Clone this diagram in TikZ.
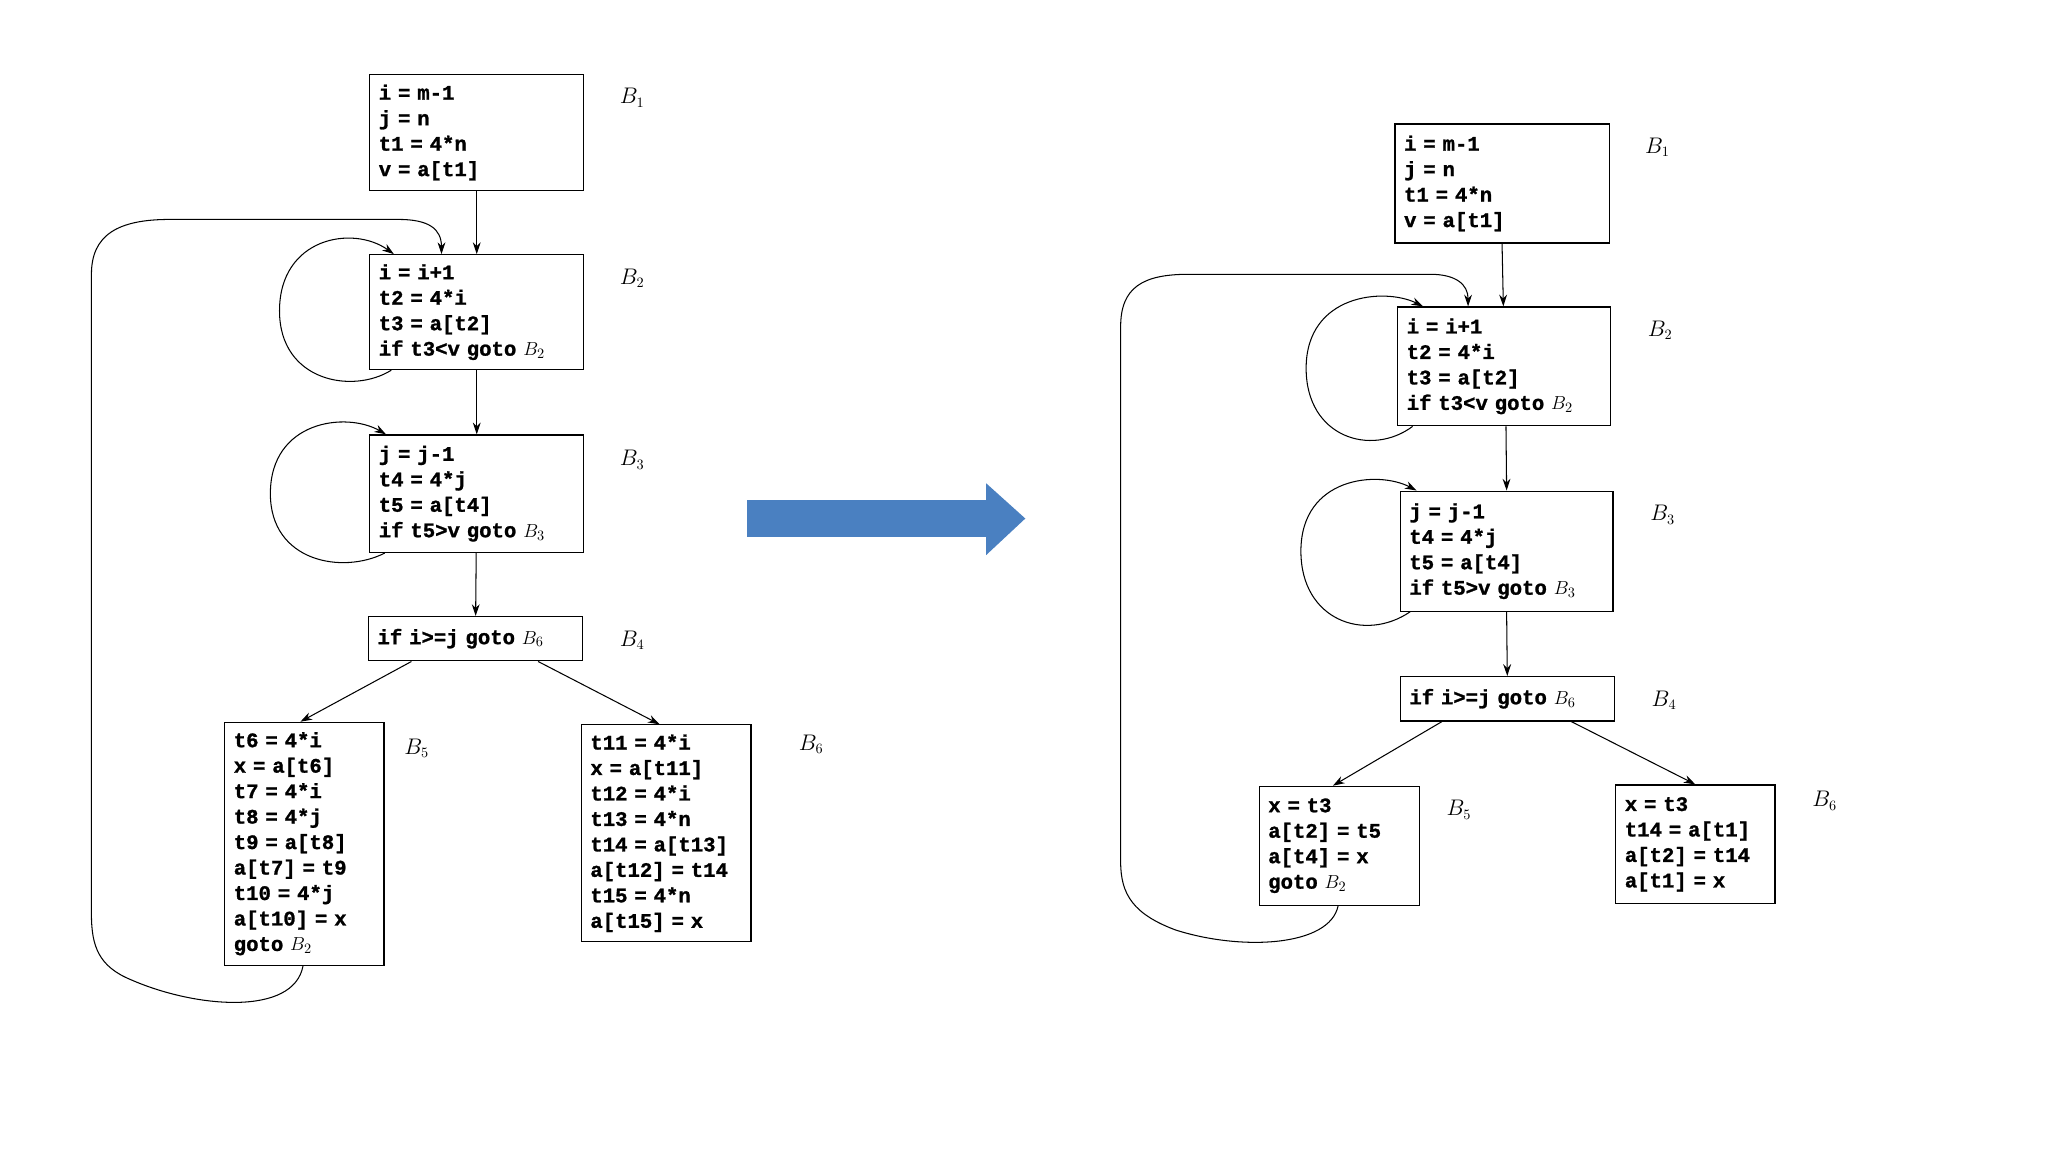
\documentclass[tikz,border=0pt]{standalone}
\usepackage{fontspec}
\setmonofont{Liberation Mono}[FakeBold=1.2]
\usetikzlibrary{arrows.meta}
\begin{document}
\begin{tikzpicture}[x=1pt,y=-1pt,
  blk/.style={draw,line width=0.9pt,rectangle,inner sep=0pt,align=left,font=\fontsize{15.8}{19.5}\selectfont\ttfamily\bfseries},
  lbl/.style={font=\fontsize{16}{18}\selectfont},
  ar/.style={line width=0.8pt,-{Stealth[length=9pt,width=6pt]}},
  ln/.style={line width=0.8pt}]
\useasboundingbox (0,0) rectangle (1568,882);
% left
\node[blk,minimum width=164pt,minimum height=89pt,text width=150pt] (L1) at (365,101.5) {i~=~m-1\\j~=~n\\t1~=~4*n\\v~=~a[t1]};
\node[blk,minimum width=164pt,minimum height=88pt,text width=150pt] (L2) at (365,239) {i~=~i+1\\t2~=~4*i\\t3~=~a[t2]\\if~t3<v~goto~$B_{2}$};
\node[blk,minimum width=164pt,minimum height=90pt,text width=150pt] (L3) at (365,378) {j~=~j-1\\t4~=~4*j\\t5~=~a[t4]\\if~t5>v~goto~$B_{3}$};
\node[blk,minimum width=164pt,minimum height=34pt,text width=150pt] (L4) at (364,489) {if~i>=j~goto~$B_{6}$};
\node[blk,minimum width=122pt,minimum height=186pt,text width=108pt] (L5) at (233,646) {t6~=~4*i\\x~=~a[t6]\\t7~=~4*i\\t8~=~4*j\\t9~=~a[t8]\\a[t7]~=~t9\\t10~=~4*j\\a[t10]~=~x\\goto~$B_{2}$};
\node[blk,minimum width=130pt,minimum height=166pt,text width=116pt] (L6) at (510,638) {t11~=~4*i\\x~=~a[t11]\\t12~=~4*i\\t13~=~4*n\\t14~=~a[t13]\\a[t12]~=~t14\\t15~=~4*n\\a[t15]~=~x};
\node[lbl] (lb1) at (484,75) {$B_{1}$};
\node[lbl] (lb2) at (484,213) {$B_{2}$};
\node[lbl] (lb3) at (484,352) {$B_{3}$};
\node[lbl] (lb4) at (484,490) {$B_{4}$};
\node[lbl] (lb5) at (319,573) {$B_{5}$};
\node[lbl] (lb6) at (621,570) {$B_{6}$};
\draw[ar] (L1) -- (L2);
\draw[ar] (L2) -- (L3);
\draw[ar] (L3) -- (L4);
\draw[ar] ([xshift=-49pt]L4.south) -- ([xshift=-3pt]L5.north);
\draw[ar] ([xshift=48pt]L4.south) -- ([xshift=-5pt]L6.north);
\draw[ar] ([xshift=17pt]L2.south west) .. controls (270,302) and (214,292) .. (214,238) .. controls (214,182) and (270,172) .. ([xshift=19pt]L2.north west);
\draw[ar] ([xshift=12pt]L3.south west) .. controls (262,440) and (207,430) .. (207,378) .. controls (207,322) and (265,315) .. ([xshift=13pt]L3.north west);
\draw[ar] ([xshift=-1pt]L5.south) .. controls (225,778) and (150,772) .. (100,750) .. controls (76,740) and (70,725) .. (70,700) -- (70,210) .. controls (70,180) and (90,168) .. (130,168) -- (305,168) .. controls (328,168) and (338,175) .. ([xshift=-27pt]L2.north);
% arrow
\fill[fill={rgb,255:red,74;green,128;blue,193}] (572,383) -- (755,383) -- (755,370) -- (785,397) -- (755,425) -- (755,411) -- (572,411) -- cycle;
% right
\node[blk,minimum width=164pt,minimum height=91pt,text width=150pt] (R1) at (1150,140.5) {i~=~m-1\\j~=~n\\t1~=~4*n\\v~=~a[t1]};
\node[blk,minimum width=163pt,minimum height=91pt,text width=149pt] (R2) at (1151.5,280.5) {i~=~i+1\\t2~=~4*i\\t3~=~a[t2]\\if~t3<v~goto~$B_{2}$};
\node[blk,minimum width=163pt,minimum height=92pt,text width=149pt] (R3) at (1153.5,422) {j~=~j-1\\t4~=~4*j\\t5~=~a[t4]\\if~t5>v~goto~$B_{3}$};
\node[blk,minimum width=164pt,minimum height=34pt,text width=150pt] (R4) at (1154,535) {if~i>=j~goto~$B_{6}$};
\node[blk,minimum width=123pt,minimum height=91pt,text width=109pt] (R5) at (1025.5,647.5) {x~=~t3\\a[t2]~=~t5\\a[t4]~=~x\\goto~$B_{2}$};
\node[blk,minimum width=122pt,minimum height=91pt,text width=108pt] (R6) at (1298,646.5) {x~=~t3\\t14~=~a[t1]\\a[t2]~=~t14\\a[t1]~=~x};
\node[lbl] (rb1) at (1269,113) {$B_{1}$};
\node[lbl] (rb2) at (1271,253) {$B_{2}$};
\node[lbl] (rb3) at (1273,394) {$B_{3}$};
\node[lbl] (rb4) at (1274,536) {$B_{4}$};
\node[lbl] (rb5) at (1117,620) {$B_{5}$};
\node[lbl] (rb6) at (1397,613) {$B_{6}$};
\draw[ar] (R1.south) -- ([xshift=-0.5pt]R2.north);
\draw[ar] ([xshift=1.5pt]R2.south) -- (R3.north);
\draw[ar] (R3.south) -- (R4.north);
\draw[ar] ([xshift=-50pt]R4.south) -- ([xshift=-5pt]R5.north);
\draw[ar] ([xshift=49pt]R4.south) -- (R6.north);
\draw[ar] ([xshift=12pt]R2.south west) .. controls (1050,350) and (1000,335) .. (1000,282) .. controls (1000,225) and (1060,220) .. ([xshift=20pt]R2.north west);
\draw[ar] ([xshift=8pt]R3.south west) .. controls (1045,492) and (996,475) .. (996,422) .. controls (996,365) and (1055,360) .. ([xshift=13pt]R3.north west);
\draw[ar] ([xshift=-1pt]R5.south) .. controls (1018,725) and (950,728) .. (900,712) .. controls (868,700) and (858,685) .. (858,660) -- (858,250) .. controls (858,220) and (875,210) .. (910,210) -- (1095,210) .. controls (1115,210) and (1124,218) .. ([xshift=-27.5pt]R2.north);
\end{tikzpicture}
\end{document}
